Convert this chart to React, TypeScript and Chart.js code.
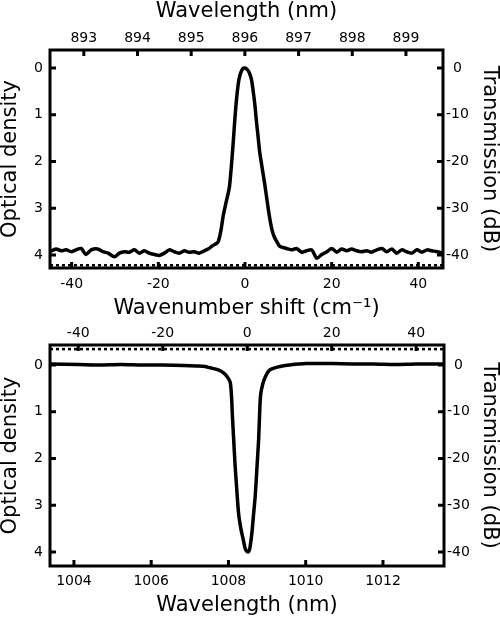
import React, { useEffect, useRef } from 'react';
import { Chart, registerables } from 'chart.js';

Chart.register(...registerables);

const FONT = '"DejaVu Sans", "Open Sans", sans-serif';

// ---------- top panel: transmission peak (vs wavenumber shift, cm^-1) ----------
const topShift = [
  -45, -43.6, -42.4, -41.3, -40.1, -39.0, -37.8, -36.7, -35.5, -34.0, -32.8, -31.6, -30.1,
  -29.0, -27.8, -26.7, -25.5, -24.4, -23.2, -22.1, -20.9, -19.8, -18.6, -17.5, -16.3, -15.2,
  -14.0, -12.9, -11.7, -10.6, -9.4, -8.3, -7.5, -6.7, -6.2, -5.6, -5.0, -4.3, -3.6, -3.1,
  -2.7, -2.3, -1.9, -1.4, -0.8, -0.2, 0.4, 1.0, 1.5, 1.9, 2.3, 2.6, 3.0, 3.4, 3.9, 4.5, 5.0,
  5.6, 6.2, 6.8, 7.5, 8.1, 9.6, 10.8, 11.9, 13.1, 14.2, 15.4, 16.6, 17.7, 18.9, 20.0, 21.2,
  22.3, 23.5, 24.6, 25.8, 26.9, 28.1, 29.2, 30.4, 31.6, 32.7, 33.9, 35.0, 36.2, 37.3, 38.5,
  39.7, 40.8, 42.0, 43.1, 44.3, 45.7,
];
const topOD = [
  3.93, 3.87, 3.91, 3.89, 3.93, 3.89, 3.86, 3.99, 3.89, 3.87, 3.93, 3.96, 4.04,
  3.96, 3.93, 3.94, 3.89, 3.96, 3.91, 3.96, 3.99, 4.01, 3.96, 3.89, 3.93, 3.96,
  3.91, 3.94, 3.93, 3.96, 3.91, 3.86, 3.8, 3.76, 3.72, 3.5, 3.15, 2.85, 2.55, 2.05,
  1.57, 1.05, 0.62, 0.25, 0.06, 0.0, 0.02, 0.1, 0.25, 0.5, 0.8, 1.1, 1.45, 1.8, 2.1, 2.45, 2.77,
  3.15, 3.45, 3.62, 3.74, 3.82, 3.86, 3.89, 3.86, 3.94, 3.91, 3.89, 4.07, 3.99, 3.93, 3.86, 3.94,
  3.87, 3.91, 3.87, 3.91, 3.93, 3.91, 3.94, 3.89, 3.86, 3.93, 3.87, 3.96, 3.89, 3.93, 3.96,
  3.89, 3.94, 3.89, 3.91, 3.93, 3.96,
];
const topFloorOD = 4.22;

// ---------- bottom panel: absorption dip (vs wavenumber shift, cm^-1) ----------
const bottomShift = [
  -46.7, -40, -35, -30, -25, -20, -15, -12, -10, -8.8, -7, -5.6, -4.6, -4.0, -3.7, -3.5, -3.2,
  -2.9, -2.6, -2.05, -1.5, -0.9, -0.4, 0.2, 0.6, 1.1, 1.5, 1.9, 2.3, 2.7, 3.0, 3.2, 3.7, 4.3,
  5.0, 5.4, 6.5, 7.8, 10, 14, 20, 25, 30, 35, 40, 46.6,
];
const bottomOD = [
  -0.02, -0.01, 0.0, -0.01, 0.0, 0.0, 0.01, 0.02, 0.03, 0.06, 0.1, 0.17, 0.27, 0.38, 0.7, 1.1, 1.6,
  2.1, 2.5, 3.17, 3.5, 3.75, 3.95, 4.0, 3.93, 3.6, 3.2, 2.8, 2.2, 1.6, 0.9, 0.62, 0.4, 0.25,
  0.14, 0.1, 0.06, 0.03, 0.0, -0.03, -0.03, -0.02, -0.02, -0.01, -0.02, -0.02,
];
const bottomFloorOD = -0.34;

// ---------- tick labels ----------
const odTicks = [0, 1, 2, 3, 4];
const dbTicks = [0, -10, -20, -30, -40];
const shiftTicks = [-40, -20, 0, 20, 40];
const topWavelengthTicks = [893, 894, 895, 896, 897, 898, 899];
const bottomWavelengthTicks = [1004, 1006, 1008, 1010, 1012];

// axis ranges
const topShiftRange = [-45, 45.7];
const topWavelengthRange = [892.37, 899.69];
const topODRange = [-0.385, 4.278];
const bottomShiftRange = [-46.7, 46.6];
const bottomWavelengthRange = [1003.38, 1013.58];
const bottomODRange = [-0.428, 4.3];

const framePlugin = {
  id: 'frameTicks',
  afterDatasetsDraw(chart: any) {
    const { ctx, chartArea: a } = chart;
    ctx.save();
    ctx.strokeStyle = '#000';
    ctx.lineWidth = 3;
    ctx.strokeRect(a.left, a.top, a.right - a.left, a.bottom - a.top);
    ctx.beginPath();
    const L = 6;
    Object.values(chart.scales).forEach((s: any) => {
      s.ticks.forEach((t: any) => {
        const p = s.getPixelForValue(t.value);
        if (s.position === 'left') { ctx.moveTo(a.left, p); ctx.lineTo(a.left + L, p); }
        else if (s.position === 'right') { ctx.moveTo(a.right, p); ctx.lineTo(a.right - L, p); }
        else if (s.position === 'top') { ctx.moveTo(p, a.top); ctx.lineTo(p, a.top + L); }
        else if (s.position === 'bottom') { ctx.moveTo(p, a.bottom); ctx.lineTo(p, a.bottom - L); }
      });
    });
    ctx.stroke();
    ctx.restore();
  },
};

interface AxisOpts {
  position: 'left' | 'right' | 'top' | 'bottom';
  range: number[];
  ticks: number[];
  size: number;
  tickPad: number;
  reverse?: boolean;
  title?: string;
  titlePad?: number;
  crossAlign?: 'near' | 'center' | 'far';
}

function axis(o: AxisOpts) {
  const horizontal = o.position === 'top' || o.position === 'bottom';
  return {
    type: 'linear',
    position: o.position,
    display: true,
    min: o.range[0],
    max: o.range[1],
    reverse: !!o.reverse,
    grid: { display: false, drawTicks: false },
    border: { display: false },
    afterBuildTicks: (s: any) => {
      s.ticks = o.ticks.map((v) => ({ value: v }));
    },
    afterFit: (s: any) => {
      if (horizontal) s.height = o.size;
      else s.width = o.size;
    },
    ticks: {
      padding: o.tickPad,
      autoSkip: false,
      maxRotation: 0,
      crossAlign: o.crossAlign || 'near',
      color: '#000',
      font: { family: FONT, size: 14, weight: 'normal' },
      callback: (v: any) => String(v),
    },
    title: {
      display: !!o.title,
      text: o.title || '',
      color: '#000',
      font: { family: FONT, size: 21, lineHeight: 1 },
      padding: { top: o.titlePad || 0, bottom: o.titlePad || 0 },
    },
  };
}

function lineDataset(xs: number[], ys: number[], xAxisID: string) {
  return {
    data: xs.map((x, i) => ({ x, y: ys[i] })),
    xAxisID,
    yAxisID: 'y',
    borderColor: '#000',
    borderWidth: 3.5,
    pointRadius: 0,
    tension: 0.25,
    fill: false,
  };
}

function floorDataset(range: number[], od: number, xAxisID: string) {
  return {
    data: [{ x: range[0], y: od }, { x: range[1], y: od }],
    xAxisID,
    yAxisID: 'y',
    borderColor: '#000',
    borderWidth: 2.5,
    borderDash: [3, 3],
    pointRadius: 0,
    fill: false,
  };
}

function baseOptions(scales: any) {
  return {
    responsive: false,
    animation: false,
    plugins: { legend: { display: false }, tooltip: { enabled: false } },
    layout: { padding: 0 },
    scales,
  };
}

export default function App() {
  const topRef = useRef<HTMLCanvasElement>(null);
  const bottomRef = useRef<HTMLCanvasElement>(null);

  useEffect(() => {
    const top = new Chart(topRef.current as HTMLCanvasElement, {
      type: 'line',
      data: {
        datasets: [
          floorDataset(topShiftRange, topFloorOD, 'x') as any,
          lineDataset(topShift, topOD, 'x') as any,
        ],
      },
      options: baseOptions({
        x: axis({ position: 'bottom', range: topShiftRange, ticks: shiftTicks, size: 57, tickPad: 8, title: 'Wavenumber shift (cm\u207B\u00B9)', titlePad: 5.5 }),
        x2: axis({ position: 'top', range: topWavelengthRange, ticks: topWavelengthTicks, size: 50, tickPad: 3, title: 'Wavelength (nm)', titlePad: 1 }),
        y: axis({ position: 'left', range: topODRange, ticks: odTicks, size: 50, tickPad: 7, reverse: true, title: 'Optical density' }),
        y2: axis({ position: 'right', range: [-10 * topODRange[1], -10 * topODRange[0]], ticks: dbTicks, size: 57, tickPad: 3, crossAlign: 'center', title: 'Transmission (dB)' }),
      }) as any,
      plugins: [framePlugin],
    });

    const bottom = new Chart(bottomRef.current as HTMLCanvasElement, {
      type: 'line',
      data: {
        datasets: [
          floorDataset(bottomShiftRange, bottomFloorOD, 'x') as any,
          lineDataset(bottomShift, bottomOD, 'x') as any,
        ],
      },
      options: baseOptions({
        x: axis({ position: 'top', range: bottomShiftRange, ticks: shiftTicks, size: 20, tickPad: 3 }),
        x2: axis({ position: 'bottom', range: bottomWavelengthRange, ticks: bottomWavelengthTicks, size: 54, tickPad: 7, title: 'Wavelength (nm)', titlePad: 3.5 }),
        y: axis({ position: 'left', range: bottomODRange, ticks: odTicks, size: 50, tickPad: 7, reverse: true, title: 'Optical density' }),
        y2: axis({ position: 'right', range: [-10 * bottomODRange[1], -10 * bottomODRange[0]], ticks: dbTicks, size: 56, tickPad: 3, crossAlign: 'center', title: 'Transmission (dB)' }),
      }) as any,
      plugins: [framePlugin],
    });

    return () => {
      top.destroy();
      bottom.destroy();
    };
  }, []);

  return (
    <div style={{ position: 'absolute', left: 0, top: 0, width: 500, height: 620, background: '#fff' }}>
      <canvas ref={topRef} width={500} height={325} style={{ position: 'absolute', left: 0, top: 0, width: 500, height: 325 }} />
      <canvas ref={bottomRef} width={500} height={295} style={{ position: 'absolute', left: 0, top: 325, width: 500, height: 295 }} />
    </div>
  );
}
